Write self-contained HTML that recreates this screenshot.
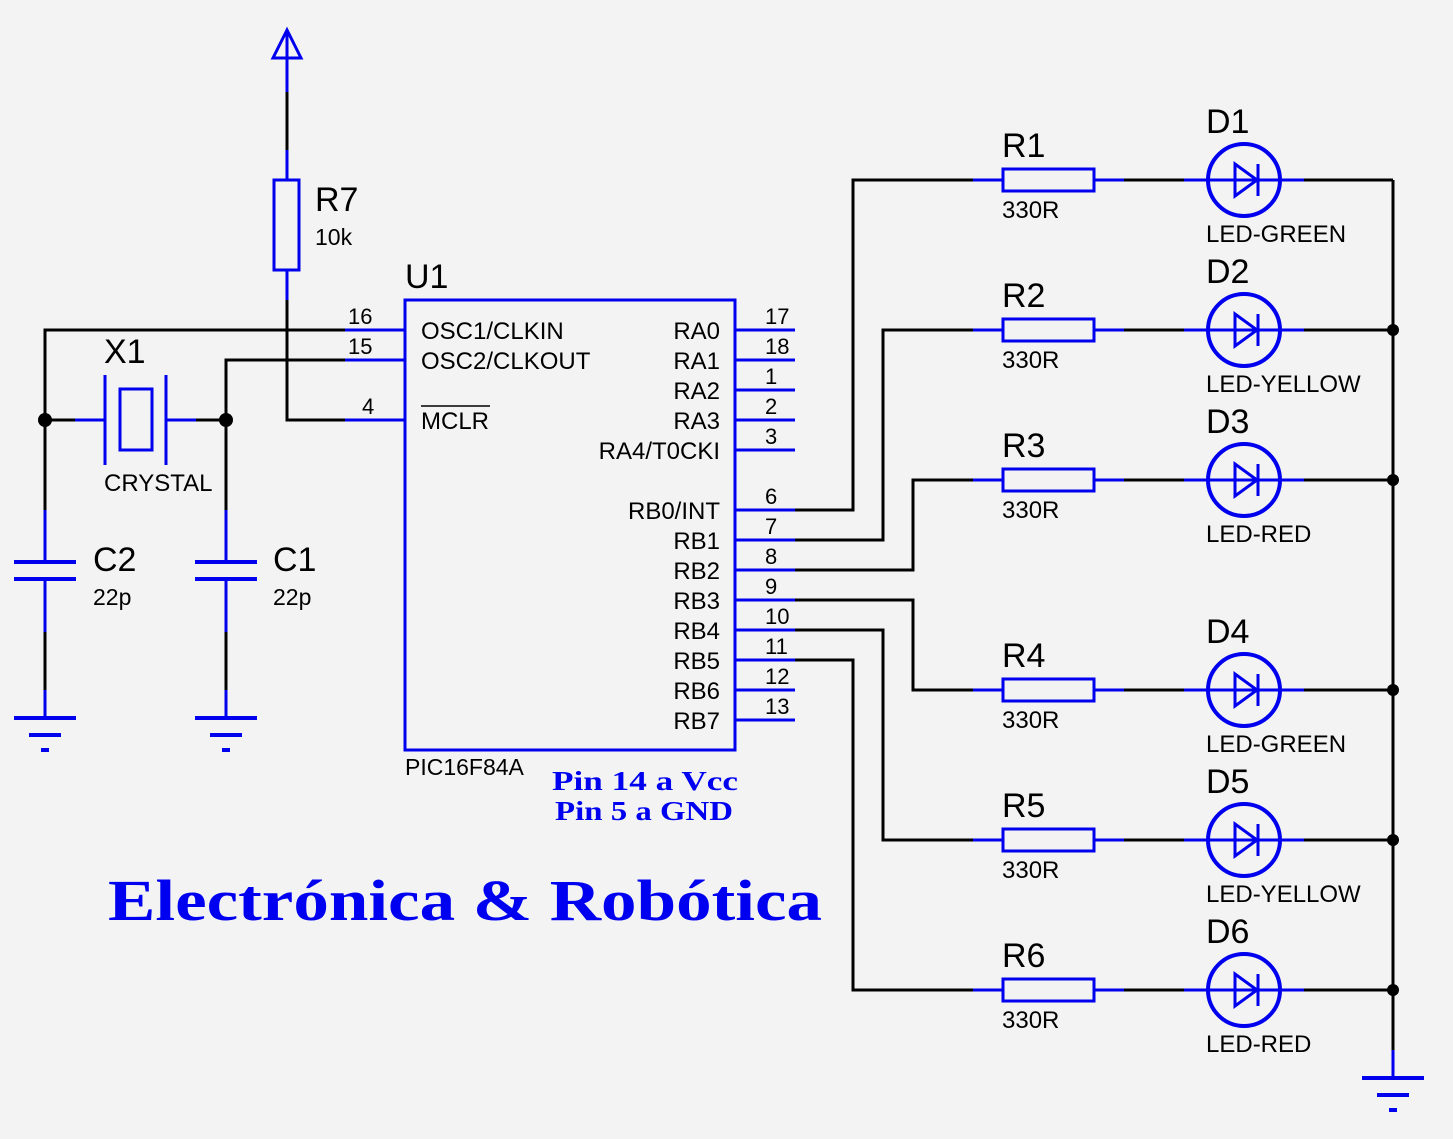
<!DOCTYPE html>
<html><head><meta charset="utf-8"><style>
html,body{margin:0;padding:0;background:#f3f3f3}
svg{display:block}
text{font-family:"Liberation Sans",sans-serif;fill:#000}
.t{font-family:"Liberation Serif",serif;font-weight:bold;fill:#0000f0}
</style></head><body>
<svg width="1453" height="1139" viewBox="0 0 1453 1139" xmlns="http://www.w3.org/2000/svg">
<rect width="1453" height="1139" fill="#f3f3f3"/>
<defs>
<g id="row">
 <line x1="973" y1="0" x2="1003" y2="0" stroke="#0000ee" stroke-width="3"/>
 <rect x="1003" y="-11" width="91" height="22" fill="none" stroke="#0000ee" stroke-width="3"/>
 <line x1="1094" y1="0" x2="1124" y2="0" stroke="#0000ee" stroke-width="3"/>
 <line x1="1124" y1="0" x2="1184" y2="0" stroke="#000" stroke-width="3"/>
 <line x1="1184" y1="0" x2="1304" y2="0" stroke="#0000ee" stroke-width="3"/>
 <circle cx="1244" cy="0" r="36" fill="none" stroke="#0000ee" stroke-width="4"/>
 <polygon points="1235,-16 1235,16 1257,0" fill="none" stroke="#0000ee" stroke-width="3"/>
 <line x1="1258" y1="-16" x2="1258" y2="16" stroke="#0000ee" stroke-width="3"/>
 <line x1="1304" y1="0" x2="1393" y2="0" stroke="#000" stroke-width="3"/>
</g>
<g id="gnd">
 <line x1="0" y1="0" x2="0" y2="28" stroke="#0000ee" stroke-width="3"/>
 <line x1="-31" y1="28" x2="31" y2="28" stroke="#0000ee" stroke-width="4"/>
 <line x1="-16" y1="45" x2="16" y2="45" stroke="#0000ee" stroke-width="4"/>
 <line x1="-4" y1="60" x2="4" y2="60" stroke="#0000ee" stroke-width="4"/>
</g>
<g id="cap">
 <line x1="0" y1="0" x2="0" y2="52" stroke="#0000ee" stroke-width="3"/>
 <line x1="-31" y1="52" x2="31" y2="52" stroke="#0000ee" stroke-width="4"/>
 <line x1="-31" y1="69" x2="31" y2="69" stroke="#0000ee" stroke-width="4"/>
 <line x1="0" y1="69" x2="0" y2="122" stroke="#0000ee" stroke-width="3"/>
 <line x1="0" y1="122" x2="0" y2="180" stroke="#000" stroke-width="3"/>
</g>
</defs>

<polygon points="287,30 273,58 301,58" fill="none" stroke="#0000ee" stroke-width="3"/>
<line x1="287" y1="30" x2="287" y2="92" stroke="#0000ee" stroke-width="3"/>
<line x1="287" y1="92" x2="287" y2="150" stroke="#000" stroke-width="3"/>
<line x1="287" y1="150" x2="287" y2="180" stroke="#0000ee" stroke-width="3"/>
<rect x="274" y="180" width="25" height="90" fill="none" stroke="#0000ee" stroke-width="3"/>
<line x1="287" y1="270" x2="287" y2="300" stroke="#0000ee" stroke-width="3"/>
<polyline points="287,300 287,420 345,420" fill="none" stroke="#000" stroke-width="3"/>
<text x="315" y="211" font-size="34">R7</text>
<text x="315" y="245" font-size="23">10k</text>

<polyline points="345,330 45,330 45,510" fill="none" stroke="#000" stroke-width="3"/>
<polyline points="345,360 226,360 226,510" fill="none" stroke="#000" stroke-width="3"/>
<line x1="45" y1="420" x2="75" y2="420" stroke="#000" stroke-width="3"/>
<line x1="75" y1="420" x2="105" y2="420" stroke="#0000ee" stroke-width="3"/>
<line x1="105" y1="375" x2="105" y2="465" stroke="#0000ee" stroke-width="3"/>
<rect x="120" y="389" width="32" height="61" fill="none" stroke="#0000ee" stroke-width="3"/>
<line x1="166" y1="375" x2="166" y2="465" stroke="#0000ee" stroke-width="3"/>
<line x1="166" y1="420" x2="196" y2="420" stroke="#0000ee" stroke-width="3"/>
<line x1="196" y1="420" x2="226" y2="420" stroke="#000" stroke-width="3"/>
<circle cx="45" cy="420" r="7"/><circle cx="226" cy="420" r="7"/>
<text x="104" y="363" font-size="34">X1</text>
<text x="104" y="491" font-size="24">CRYSTAL</text>
<use href="#cap" x="45" y="510"/>
<use href="#cap" x="226" y="510"/>
<use href="#gnd" x="45" y="690"/>
<use href="#gnd" x="226" y="690"/>
<text x="93" y="571" font-size="34">C2</text>
<text x="93" y="605" font-size="23">22p</text>
<text x="273" y="571" font-size="34">C1</text>
<text x="273" y="605" font-size="23">22p</text>

<rect x="405" y="300" width="330" height="450" fill="none" stroke="#0000ee" stroke-width="3"/>
<g stroke="#0000ee" stroke-width="3">
<line x1="345" y1="330" x2="405" y2="330"/><line x1="345" y1="360" x2="405" y2="360"/><line x1="345" y1="420" x2="405" y2="420"/>
<line x1="735" y1="330" x2="795" y2="330"/><line x1="735" y1="360" x2="795" y2="360"/><line x1="735" y1="390" x2="795" y2="390"/><line x1="735" y1="420" x2="795" y2="420"/><line x1="735" y1="450" x2="795" y2="450"/>
<line x1="735" y1="510" x2="795" y2="510"/><line x1="735" y1="540" x2="795" y2="540"/><line x1="735" y1="570" x2="795" y2="570"/><line x1="735" y1="600" x2="795" y2="600"/><line x1="735" y1="630" x2="795" y2="630"/><line x1="735" y1="660" x2="795" y2="660"/><line x1="735" y1="690" x2="795" y2="690"/><line x1="735" y1="720" x2="795" y2="720"/>
</g>
<text x="405" y="288" font-size="34">U1</text>
<text x="405" y="775" font-size="23">PIC16F84A</text>
<g font-size="22">
<text x="348" y="324">16</text><text x="348" y="354">15</text><text x="362" y="414">4</text>
<text x="765" y="324">17</text><text x="765" y="354">18</text><text x="765" y="384">1</text><text x="765" y="414">2</text><text x="765" y="444">3</text>
<text x="765" y="504">6</text><text x="765" y="534">7</text><text x="765" y="564">8</text><text x="765" y="594">9</text><text x="765" y="624">10</text><text x="765" y="654">11</text><text x="765" y="684">12</text><text x="765" y="714">13</text>
</g>
<g font-size="24">
<text x="421" y="339">OSC1/CLKIN</text><text x="421" y="369">OSC2/CLKOUT</text><text x="421" y="429">MCLR</text>
<line x1="421" y1="406" x2="490" y2="406" stroke="#000" stroke-width="1.5"/>
</g>
<g font-size="24" text-anchor="end">
<text x="720" y="339">RA0</text><text x="720" y="369">RA1</text><text x="720" y="399">RA2</text><text x="720" y="429">RA3</text><text x="720" y="459">RA4/T0CKI</text>
<text x="720" y="519">RB0/INT</text><text x="720" y="549">RB1</text><text x="720" y="579">RB2</text><text x="720" y="609">RB3</text><text x="720" y="639">RB4</text><text x="720" y="669">RB5</text><text x="720" y="699">RB6</text><text x="720" y="729">RB7</text>
</g>

<g fill="none" stroke="#000" stroke-width="3">
<polyline points="795,510 853,510 853,180 973,180"/>
<polyline points="795,540 883,540 883,330 973,330"/>
<polyline points="795,570 913,570 913,480 973,480"/>
<polyline points="795,600 913,600 913,690 973,690"/>
<polyline points="795,630 883,630 883,840 973,840"/>
<polyline points="795,660 853,660 853,990 973,990"/>
<line x1="1393" y1="180" x2="1393" y2="1050"/>
</g>
<use href="#row" y="180"/><use href="#row" y="330"/><use href="#row" y="480"/>
<use href="#row" y="690"/><use href="#row" y="840"/><use href="#row" y="990"/>
<g><circle cx="1393" cy="330" r="6"/><circle cx="1393" cy="480" r="6"/><circle cx="1393" cy="690" r="6"/><circle cx="1393" cy="840" r="6"/><circle cx="1393" cy="990" r="6"/></g>
<use href="#gnd" x="1393" y="1050"/>

<g font-size="34">
<text x="1002" y="157">R1</text><text x="1002" y="307">R2</text><text x="1002" y="457">R3</text><text x="1002" y="667">R4</text><text x="1002" y="817">R5</text><text x="1002" y="967">R6</text>
<text x="1206" y="133">D1</text><text x="1206" y="283">D2</text><text x="1206" y="433">D3</text><text x="1206" y="643">D4</text><text x="1206" y="793">D5</text><text x="1206" y="943">D6</text>
</g>
<g font-size="24">
<text x="1002" y="218">330R</text><text x="1002" y="368">330R</text><text x="1002" y="518">330R</text><text x="1002" y="728">330R</text><text x="1002" y="878">330R</text><text x="1002" y="1028">330R</text>
<text x="1206" y="242">LED-GREEN</text><text x="1206" y="392">LED-YELLOW</text><text x="1206" y="542">LED-RED</text><text x="1206" y="752">LED-GREEN</text><text x="1206" y="902">LED-YELLOW</text><text x="1206" y="1052">LED-RED</text>
</g>

<text class="t" x="552" y="790" font-size="27" textLength="186" lengthAdjust="spacingAndGlyphs">Pin 14 a Vcc</text>
<text class="t" x="555" y="820" font-size="27" textLength="178" lengthAdjust="spacingAndGlyphs">Pin 5 a GND</text>
<text class="t" x="108" y="920" font-size="58" textLength="714" lengthAdjust="spacingAndGlyphs">Electrónica &amp; Robótica</text>
</svg>
</body></html>
